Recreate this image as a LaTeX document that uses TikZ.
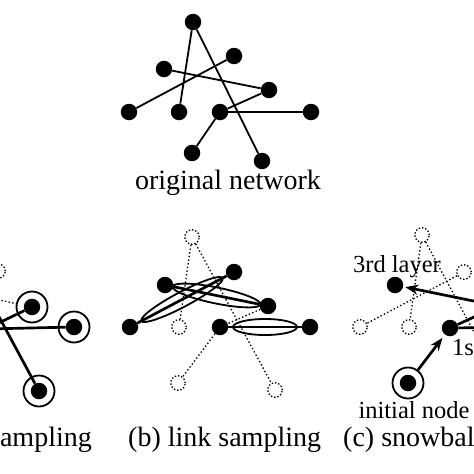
\documentclass[tikz,border=0pt]{standalone}
\usepackage{fontspec}
\setmainfont{Liberation Serif}
\usetikzlibrary{arrows.meta,calc}
\pgfdeclarelayer{bg}
\pgfsetlayers{bg,main}
\begin{document}
\begin{tikzpicture}[x=1pt,y=-1pt,
  dot/.style={circle,fill=black,inner sep=0pt,minimum size=16.5pt},
  ghost/.style={circle,draw,fill=white,dash pattern=on 1.4pt off 1.9pt,line width=1.3pt,inner sep=0pt,minimum size=14.5pt},
  ring/.style={circle,draw,fill=white,line width=1.8pt,inner sep=0pt,minimum size=31pt},
  link/.style={line width=1.8pt},
  heavy/.style={line width=2.7pt},
  faint/.style={dash pattern=on 1.4pt off 2.3pt,line width=1.3pt},
  lens/.style={line width=1.8pt},
  lbl/.style={font=\fontsize{28}{32}\selectfont,inner sep=0pt},
  small/.style={font=\fontsize{24.5}{28}\selectfont,inner sep=0pt},
  arr/.style={heavy,-{Stealth[length=13pt,width=10pt]}}
]
\useasboundingbox (0,0) rectangle (474,474);
\clip (0,0) rectangle (474,474);

% ---------- original network ----------
\node[dot] (tA) at (193,22) {};
\node[dot] (tB) at (234,56) {};
\node[dot] (tC) at (164,69) {};
\node[dot] (tD) at (269,90) {};
\node[dot] (tE) at (129,112) {};
\node[dot] (tF) at (179,112) {};
\node[dot] (tG) at (220,112) {};
\node[dot] (tH) at (311,112) {};
\node[dot] (tI) at (192,153) {};
\node[dot] (tJ) at (262,161) {};
\draw[link] (tA) -- (tF);
\draw[link] (tA) -- (tJ);
\draw[link] (tB) -- (tE);
\draw[link] (tC) -- (tD);
\draw[link] (tD) -- (tG);
\draw[link] (tG) -- (tH);
\draw[link] (tG) -- (tI);
\node[lbl,anchor=base] (tlab) at (228,189) {original network};

% ---------- (a) node sampling ----------
\coordinate (aA) at (-44,237);
\coordinate (aC) at (-71,285);
\node[ghost] (aB) at (-2,271) {};
\node[dot] (aG) at (-14,329) {};
\node[ring] (aDr) at (32,307) {};
\node[ring] (aHr) at (74,327) {};
\node[ring] (aJr) at (39,391) {};
\node[dot] (aD) at (32,307) {};
\node[dot] (aH) at (74,327) {};
\node[dot] (aJ) at (39,391) {};
\begin{pgfonlayer}{bg}
\draw[faint] (aC) -- (aD);
\end{pgfonlayer}
\draw[heavy] (aG) -- (aD);
\draw[heavy] (aG) -- (aH);
\draw[heavy] (aA) -- (aJ);
\node[lbl,anchor=base east] (alab) at (92,446) {(a) node sampling};

% ---------- (b) link sampling ----------
\node[ghost] (bA) at (192,237) {};
\node[dot] (bB) at (234,272) {};
\node[dot] (bC) at (165,285) {};
\node[dot] (bD) at (268,306) {};
\node[dot] (bE) at (130,327) {};
\node[ghost] (bF) at (179,327) {};
\node[dot] (bG) at (220,327) {};
\node[dot] (bH) at (310,327) {};
\node[ghost] (bI) at (178,383) {};
\node[ghost] (bJ) at (275,390) {};
\begin{pgfonlayer}{bg}
\draw[faint] (bA) -- (bF);
\draw[faint] (bA) -- (bJ);
\draw[faint] (bD) -- (bG);
\draw[faint] (bG) -- (bI);
\end{pgfonlayer}
\draw[heavy] (bB) -- (bE);
\draw[heavy] (bC) -- (bD);
\draw[heavy] (bG) -- (bH);
\begin{scope}[shift={($(bE)!0.5!(bB)$)},rotate=27.9]
  \draw[lens] (0,0) ellipse (46pt and 7.5pt);
\end{scope}
\begin{scope}[shift={($(bC)!0.5!(bD)$)},rotate=-11.5]
  \draw[lens] (0,0) ellipse (45pt and 8pt);
\end{scope}
\begin{scope}[shift={($(bG)!0.5!(bH)$)}]
  \draw[lens] (0,0) ellipse (32pt and 8pt);
\end{scope}
\node[lbl,anchor=base west] (blab) at (128,446) {(b) link sampling};

% ---------- (c) snowball sampling ----------
\node[ghost] (cA) at (422,235) {};
\node[ghost] (cB) at (464,272) {};
\node[ghost] (cE) at (360,327) {};
\node[ghost] (cF) at (409,327) {};
\node[ghost] (cJ) at (505,390) {};
\node[dot] (cC) at (395,285) {};
\node[dot] (cG) at (450,328) {};
\node[dot] (cD) at (498,306) {};
\node[dot] (cH) at (540,327) {};
\node[ring] (cIr) at (408,383) {};
\node[dot] (cI) at (408,383) {};
\begin{pgfonlayer}{bg}
\draw[faint] (cA) -- (cF);
\draw[faint] (cA) -- (cJ);
\draw[faint] (cB) -- (cE);
\end{pgfonlayer}
\draw[arr,shorten >=2pt] (cD) -- (cC);
\draw[arr] (cG) -- (cD);
\draw[arr] (cG) -- (cH);
\draw[arr,shorten >=4pt] (cIr) -- (cG);
\node[small,anchor=base] (l3) at (397,272) {3rd layer};
\node[small,anchor=base west] (l1) at (452,355) {1st layer};
\node[small,anchor=base] (lini) at (414,418) {initial node};
\node[lbl,anchor=base west] (clab) at (343,446) {(c) snowball sampling};
\end{tikzpicture}
\end{document}
